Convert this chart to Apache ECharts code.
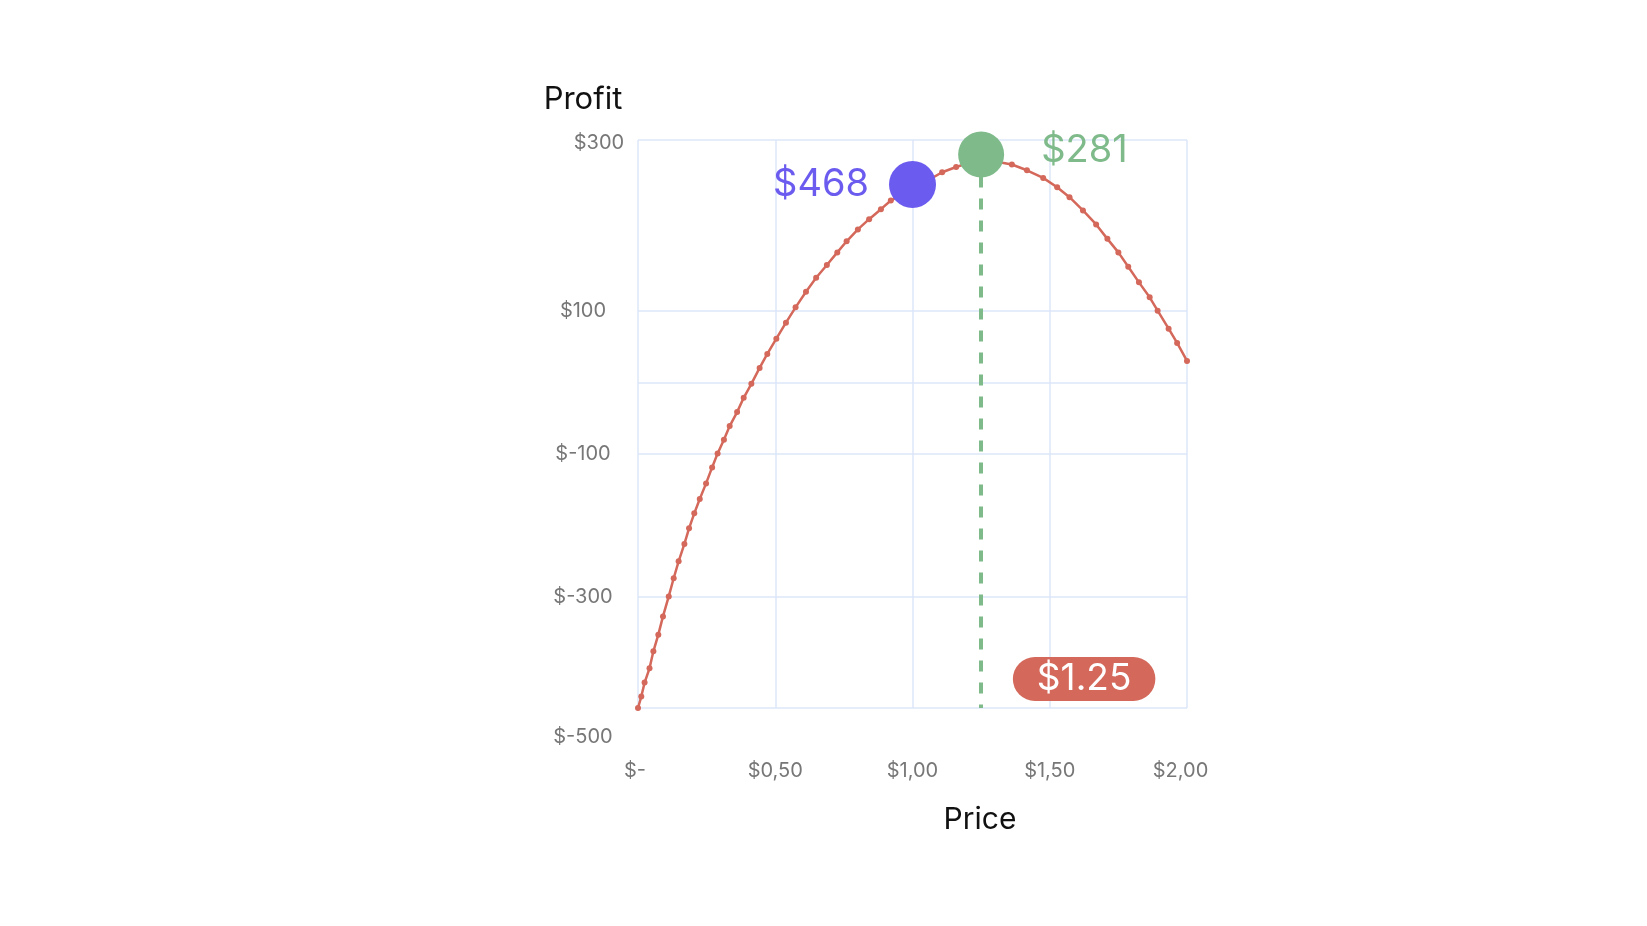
<!DOCTYPE html>
<html>
<head>
<meta charset="utf-8">
<script src="https://cdn.jsdelivr.net/npm/echarts@6/dist/echarts.min.js"></script>
<style>
  html, body { margin: 0; padding: 0; background: #fff; }
  #main { width: 1647px; height: 926px; }
</style>
</head>
<body>
<div id="main"></div>
<script>
// price / profit points
var prices = [0.000, 0.012, 0.024, 0.042, 0.056, 0.074, 0.091, 0.112, 0.130, 0.148,
              0.169, 0.186, 0.205, 0.225, 0.248, 0.270, 0.290, 0.313, 0.334, 0.361,
              0.385, 0.413, 0.443, 0.471, 0.504, 0.539, 0.574, 0.612, 0.649, 0.688,
              0.726, 0.760, 0.801, 0.842, 0.885, 0.921, 0.968, 1.015, 1.061, 1.108,
              1.159, 1.210, 1.261, 1.312, 1.362, 1.417, 1.476, 1.527, 1.572, 1.621,
              1.669, 1.710, 1.750, 1.786, 1.825, 1.864, 1.893, 1.933, 1.964, 2.000];
var profits = [-455, -439, -419.5, -399.5, -375.8, -352.5, -327, -299, -273.6, -250,
               -225.6, -203.8, -182.9, -162.8, -141, -118.7, -99.1, -80, -60.9, -41.4,
               -21.4, -1.9, 20.4, 40, 61.3, 83.6, 105.1, 126.9, 146.4, 164.2,
               181.9, 197.4, 214, 228.3, 242.3, 254.4, 263.9, 274.4, 283.7, 293.9,
               301.3, 307.4, 309.5, 308.1, 304.7, 296.7, 286, 273, 259, 240.5,
               221, 200.8, 181.9, 161.8, 140, 119.1, 100.4, 75.3, 55.3, 30.2];

var xTicks = [0, 0.5, 1, 1.5, 2];
var xLabels = ['$-', '$0,50', '$1,00', '$1,50', '$2,00'];
var yTicks = [339, 100, -100, -300, -455];
var yLabels = ['$300', '$100', '$-100', '$-300', '$-500'];
var yGrid = [339, 100, 0, -100, -300, -455];

var current = [1.00, 276.8];
var currentLabel = '$468';
var optimum = [1.25, 318.6];
var optimumLabel = '$281';
var optimumPrice = '$1.25';

var yMin = -455, yMax = 339;

var RED = '#d4685a', BLUE = '#6b5cef', GREEN = '#7fba8a', GRID = '#dde6f9';
var FONT = 'Inter';

var myChart = echarts.init(document.getElementById('main'));

var option = {
    animation: false,
    textStyle: { fontFamily: FONT },
    grid: { left: 638, right: 460, top: 140, bottom: 218 },
    xAxis: {
        type: 'value',
        min: 0, max: 2, interval: 0.5,
        name: 'Price',
        nameLocation: 'middle',
        nameGap: 97,
        nameTextStyle: { fontSize: 30, color: '#111', fontFamily: FONT, padding: [0, 0, 0, 135] },
        axisLine: { show: false },
        axisTick: { show: false },
        axisLabel: {
            fontSize: 20, color: '#777', margin: 53, fontFamily: FONT,
            formatter: function (v) {
                var i = xTicks.indexOf(v);
                if (i === 0) return '{first|' + xLabels[i] + '}';
                if (i === xTicks.length - 1) return '{last|' + xLabels[i] + '}';
                return xLabels[i];
            },
            rich: {
                first: { fontSize: 20, color: '#777', fontFamily: FONT, padding: [0, 6, 0, 0] },
                last: { fontSize: 20, color: '#777', fontFamily: FONT, padding: [0, 13, 0, 0] }
            }
        },
        splitLine: { show: true, lineStyle: { color: GRID, width: 1.5 } }
    },
    yAxis: {
        type: 'value',
        min: yMin, max: yMax,
        name: 'Profit',
        nameLocation: 'end',
        nameGap: 40,
        nameTextStyle: { fontSize: 31, color: '#111', fontFamily: FONT, align: 'center',
                         verticalAlign: 'middle', padding: [0, 110, 0, 0] },
        axisLine: { show: false },
        axisTick: { show: false, customValues: yGrid },
        axisLabel: {
            customValues: yTicks,
            fontSize: 20, color: '#777', margin: 55, align: 'center', fontFamily: FONT,
            formatter: function (v) {
                var i = yTicks.indexOf(v);
                if (i === 0) return '{top|' + yLabels[i] + '}';
                if (i === yTicks.length - 1) return '{low|' + yLabels[i] + '}';
                return yLabels[i];
            },
            rich: {
                top: { fontSize: 20, color: '#777', fontFamily: FONT, padding: [6, 0, 0, 32] },
                low: { fontSize: 20, color: '#777', fontFamily: FONT, padding: [58, 0, 0, 0] }
            }
        },
        splitLine: { show: true, lineStyle: { color: GRID, width: 1.5 } }
    },
    series: [
        {
            name: 'Profit',
            type: 'line',
            clip: false,
            z: 2,
            data: prices.map(function (p, i) { return [p, profits[i]]; }),
            symbol: 'circle',
            symbolSize: 6,
            lineStyle: { color: RED, width: 2.5 },
            itemStyle: { color: RED },
            markLine: {
                silent: true,
                symbol: 'none',
                label: { show: false },
                lineStyle: { color: GREEN, width: 4, type: [11, 11] },
                data: [[{ coord: [optimum[0], optimum[1]] }, { coord: [optimum[0], yMin] }]]
            }
        },
        {
            name: 'Current',
            type: 'scatter',
            z: 5,
            symbolSize: 47,
            itemStyle: { color: BLUE, opacity: 1 },
            data: [current],
            label: {
                show: true, position: 'left', distance: 20,
                formatter: currentLabel,
                fontSize: 38, color: BLUE, fontFamily: FONT
            }
        },
        {
            name: 'Optimum',
            type: 'scatter',
            z: 5,
            symbolSize: 46,
            itemStyle: { color: GREEN, opacity: 1 },
            data: [optimum],
            label: {
                show: true, position: 'right', distance: 37, offset: [0, -4],
                formatter: optimumLabel,
                fontSize: 38, color: GREEN, fontFamily: FONT
            }
        },
        {
            name: 'Price tag',
            type: 'scatter',
            z: 6,
            symbolSize: 0,
            itemStyle: { opacity: 1 },
            data: [[optimum[0], yMin]],
            label: {
                show: true, position: 'inside', offset: [103, -29],
                formatter: optimumPrice,
                fontSize: 37, lineHeight: 38, color: '#fff', fontFamily: FONT,
                backgroundColor: RED, borderRadius: 22, padding: [3, 24], opacity: 1
            }
        }
    ]
};

myChart.setOption(option);
</script>
</body>
</html>
